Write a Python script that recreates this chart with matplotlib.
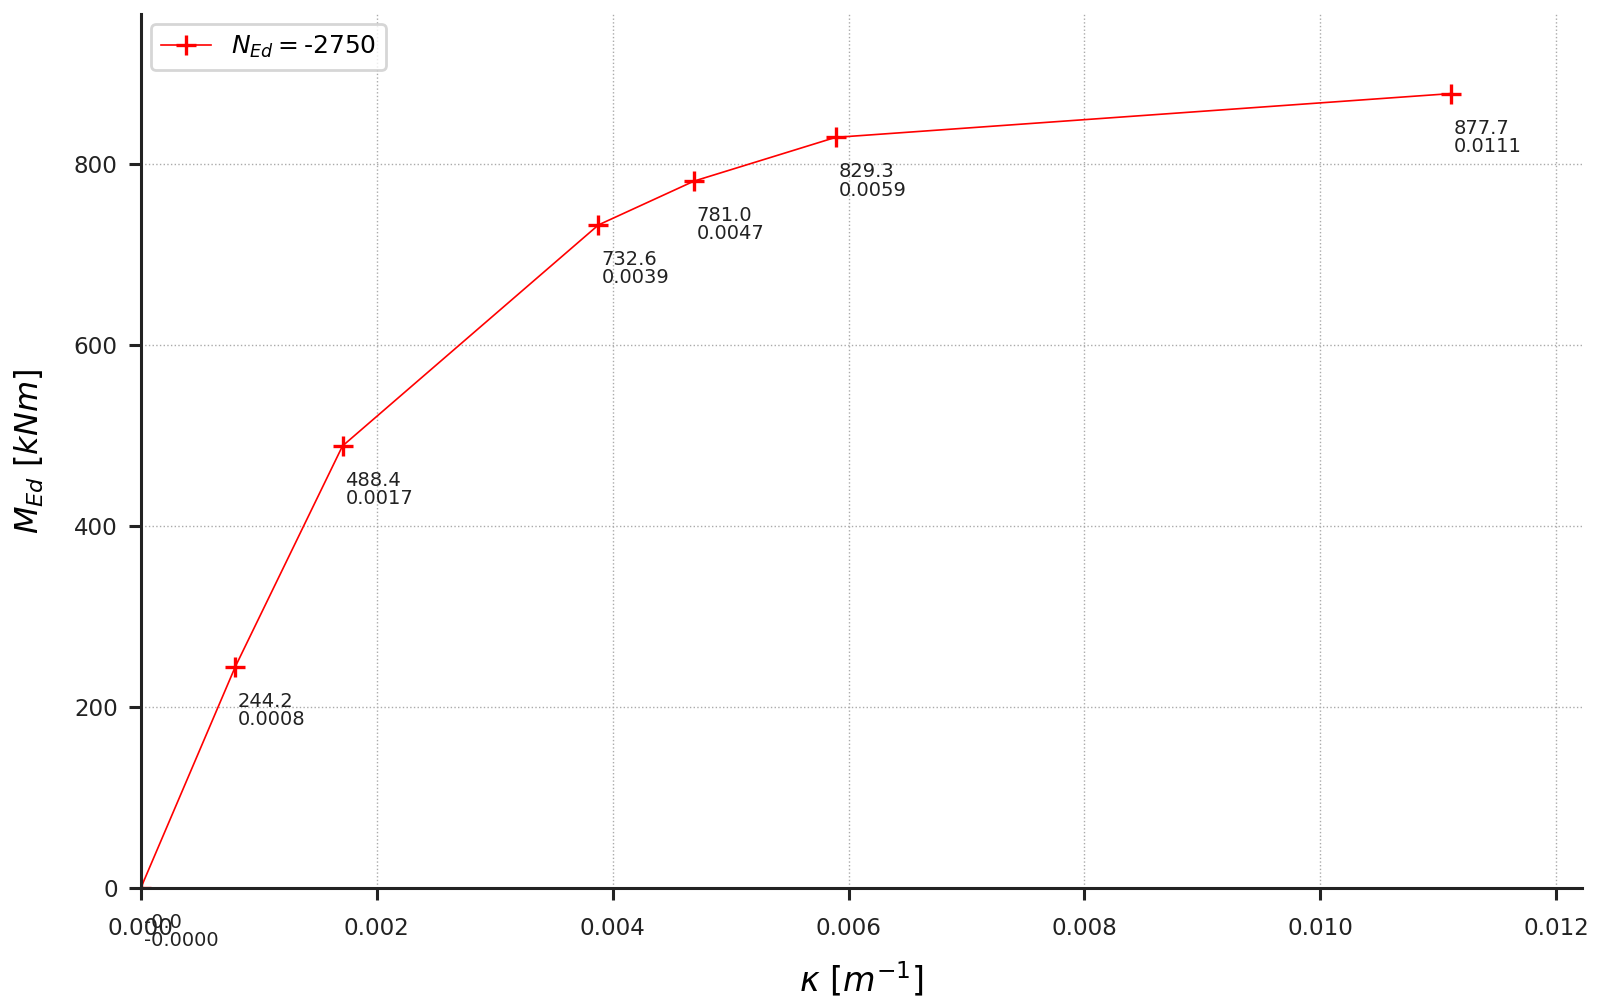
import matplotlib
matplotlib.use('Agg')
import matplotlib.pyplot as plt

# curvature [1/m] and bending moment [kNm]
kappa = [-0.0, 0.00080, 0.00171, 0.00388, 0.00469, 0.00589, 0.01111]
m_ed = [-0.0, 244.2, 488.4, 732.6, 781.0, 829.3, 877.7]
n_ed = -2750

fig = plt.figure(figsize=(8, 5.04), dpi=200)
ax = fig.add_subplot(1, 1, 1)
fig.subplots_adjust(left=0.088, right=0.989, bottom=0.119, top=0.986)

ax.plot(kappa, m_ed, color='red', lw=0.6, marker='+', markersize=7,
        markeredgewidth=1.2, label=r'$N_{Ed}=$' + str(n_ed))

for k, m in zip(kappa, m_ed):
    ax.annotate('%.1f\n%.4f' % (m, k), xy=(k, m), xytext=(1, -9),
                textcoords='offset points', ha='left', va='top', fontsize=7,
                color='#222222', linespacing=0.95)

ax.set_xlim(0, 1.1 * max(kappa))
ax.set_ylim(0, 1.1 * max(m_ed))
ax.set_xticks([0, 0.002, 0.004, 0.006, 0.008, 0.010, 0.012])
ax.set_xticklabels(['0.000', '0.002', '0.004', '0.006', '0.008', '0.010', '0.012'])
ax.set_yticks([0, 200, 400, 600, 800])

ax.set_xlabel(r'$\kappa$ $[m^{-1}]$', fontsize=12, labelpad=7)
ax.set_ylabel(r'$M_{Ed}$ $[kNm]$', fontsize=11.5, labelpad=10)

for s in ['top', 'right']:
    ax.spines[s].set_visible(False)
for s in ['left', 'bottom']:
    ax.spines[s].set_linewidth(1.1)
    ax.spines[s].set_color('#222222')
ax.tick_params(labelsize=8.3, width=1.1, length=4.3, pad=4, color='#222222',
               labelcolor='#222222')
ax.tick_params(axis='x', pad=6)

ax.grid(True, linestyle=':', linewidth=0.5, color='#aaaaaa')
leg = ax.legend(loc='upper left', fontsize=9, borderaxespad=0.4)
leg.get_frame().set_edgecolor('#cccccc')

plt.savefig('out.png', dpi=200)
